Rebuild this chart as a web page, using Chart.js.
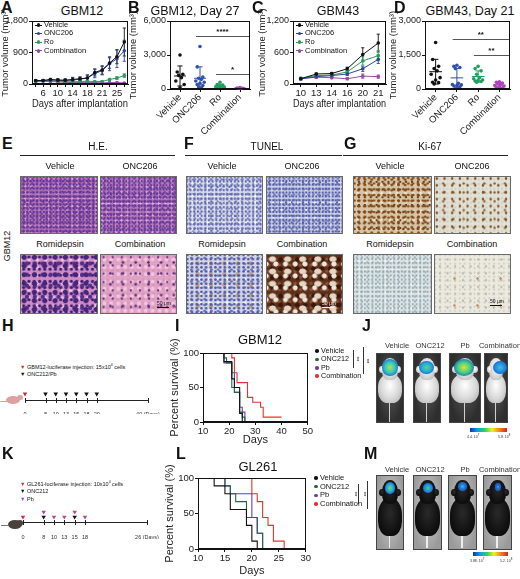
<!DOCTYPE html>
<html><head><meta charset="utf-8">
<script src="https://cdn.jsdelivr.net/npm/chart.js@4.4.1/dist/chart.umd.min.js"></script>
<style>
body{margin:0;width:520px;height:579px;position:relative;background:#fff;font-family:"Liberation Sans",Arial,sans-serif;overflow:hidden;color:#111}
.L{position:absolute;font-weight:bold;font-size:16px;line-height:16px}
.t{position:absolute;white-space:nowrap;transform:translate(-50%,-50%);line-height:1}
.box{position:absolute;box-sizing:border-box;border:1px solid #6a6a6a;overflow:hidden}
.inner{position:absolute;left:-2px;top:-2px;right:-2px;bottom:-2px;filter:blur(0.45px)}
canvas{position:absolute}
.hl{position:absolute;height:1px;background:#222}
.lg{position:absolute;white-space:nowrap;line-height:1}
</style></head><body>
<script>
// ---------------- DATA ----------------
const groupsA = ['Vehicle','ONC206','Ro','Combination'];
const daysA = [4,6,8,10,12,14,16,18,20,21,23,25,27];
const vehicleA = [100,100,130,110,110,130,150,170,330,400,600,780,1200];
const vehicleAerr = [20,20,30,30,30,60,50,90,100,120,150,200,400];
const onc206A = [90,100,110,110,100,110,140,170,300,380,580,720,950];
const onc206Aerr = [20,20,30,40,40,70,60,80,120,120,200,250,300];
const roA = [80,90,80,80,70,60,70,80,70,70,130,170,240];
const roAerr = [15,20,20,20,20,20,20,25,20,20,30,40,50];
const combA = [70,80,70,60,50,40,40,40,40,30,40,40,30];
const combAerr = [15,15,15,15,10,10,10,10,10,10,10,10,10];

const daysC = [10,13,14,16,20,21];
const vehicleC = [100,190,200,290,560,780];
const vehicleCerr = [20,20,20,30,130,170];
const onc206C = [100,140,160,190,290,470];
const onc206Cerr = [20,20,20,30,50,80];
const roC = [110,160,170,230,440,540];
const roCerr = [20,20,20,30,80,100];
const combC = [100,130,120,100,150,140];
const combCerr = [20,20,20,20,40,30];

const catsB = ['Vehicle','ONC206','Ro','Combination'];
const vehicleB = [3000,1500,1300,1200,1000,700,400,100];
const onc206B = [3750,1950,1050,950,850,700,600,500,400,300,200,100];
const roB = [600,400,350,300,250,200,150,100,50,20];
const combB = [120,80,60,40,30,20,10,5,0];
const sigB = [{from:1,to:3,y:4700,label:'****'},{from:2,to:3,y:1300,label:'*'}];

const catsD = ['Vehicle','ONC206','Ro','Combination'];
const vehicleD = [2050,1300,1000,900,800,650,500,400,300,280,220];
const onc206D = [1050,1000,950,900,250,200,180,150,130,100];
const roD = [1000,900,800,650,500,450,400,380,350,330,300];
const combD = [320,300,260,230,200,150,120,90,60,40];
const sigD = [{from:1,to:3,y:2200,label:'**'},{from:2,to:3,y:1500,label:'**'}];

const groupsS = ['Vehicle','ONC212','Pb','Combination'];
const survI_vehicle = [[10,100],[18,87.5],[21,62.5],[22,50],[24,12.5],[25,0]];
const survI_onc212 = [[10,100],[18,92.9],[19,85.7],[21,50],[22,42.9],[24,14.3],[25,7.1],[26,0]];
const survI_pb = [[10,100],[18,85.7],[21,71.4],[22,42.9],[24,21.4],[25,14.3],[26,0]];
const survI_comb = [[10,100],[21,92.9],[22,71.4],[23,57.1],[27,35.7],[29,28.6],[32,21.4],[33,7.1],[40,7.1]];

const survL_vehicle = [[10,100],[13,88.9],[15,77.8],[16,55.6],[19,33.3],[20,11.1],[21,0]];
const survL_onc212 = [[10,100],[15,88.9],[16,77.8],[17,66.7],[19,44.4],[21,22.2],[22,0]];
const survL_pb = [[10,100],[15,88.9],[16,77.8],[20,44.4],[21,22.2],[22,0]];
const survL_comb = [[10,100],[20,77.8],[21,66.7],[22,44.4],[23,33.3],[24,11.1],[26,0]];

// schematic (not-to-scale) timelines: blank entries are spacer slots
const timelineH = ['0','','8','10','13','15','18','20','','','','','40'];
const injectH = ['0'];
const treatH = ['8','10','13','15','18','20'];
const timelineK = ['0','','8','10','13','15','18','','','','','','26'];
const injectK = ['0'];
const onc212K = ['8','15'];
const pbK = ['8','10','13','15','18'];

// ---------------- STYLE ----------------
const FF = '"Liberation Sans", Arial, sans-serif';
Chart.defaults.font.family = FF;
Chart.defaults.color = '#222';
Chart.defaults.animation = false;
const colA = ['#111111','#2f4596','#2a9d5c','#9b4aa8'];
const colB = ['#111111','#3050b0','#1fa060','#b040c0'];
const colS = ['#111111','#24664a','#6b3fa0','#e83030'];

function el(tag, cls, css, html){const e=document.createElement(tag); if(cls)e.className=cls; if(css)e.style.cssText=css; if(html!==undefined)e.innerHTML=html; document.body.appendChild(e); return e;}
function canvas(l,t,w,h){const c=el('canvas','', `left:${l}px;top:${t}px;width:${w}px;height:${h}px`); c.width=w; c.height=h; return c;}
function letter(ch,l,t){el('div','L',`left:${l}px;top:${t}px`,ch);}
function text(s,x,y,size,extra){el('div','t',`left:${x}px;top:${y}px;font-size:${size}px;${extra||''}`,s);}

const framePlugin = {id:'frame', afterDraw(c){const a=c.chartArea,ctx=c.ctx;ctx.save();ctx.strokeStyle='#111';ctx.lineWidth=1;ctx.strokeRect(Math.round(a.left)+0.5,Math.round(a.top)+0.5,Math.round(a.right-a.left)-1,Math.round(a.bottom-a.top)-1);ctx.restore();}};
const errPlugin = {id:'err', beforeDatasetsDraw(c){const ctx=c.ctx, ys=c.scales.y; c.data.datasets.forEach((ds,i)=>{ if(!ds.err) return; const meta=c.getDatasetMeta(i); ctx.save(); ctx.strokeStyle=ds.borderColor; ctx.lineWidth=0.9; meta.data.forEach((pt,j)=>{const v=ds.data[j], e=ds.err[j]; const y1=ys.getPixelForValue(v+e), y2=ys.getPixelForValue(Math.max(0,v-e)); ctx.beginPath(); ctx.moveTo(pt.x,y1); ctx.lineTo(pt.x,y2); ctx.moveTo(pt.x-1.6,y1); ctx.lineTo(pt.x+1.6,y1); ctx.moveTo(pt.x-1.6,y2); ctx.lineTo(pt.x+1.6,y2); ctx.stroke();}); ctx.restore();});}};
const statPlugin = {id:'stat', afterDatasetsDraw(c,args,opts){const ctx=c.ctx, xs=c.scales.x, ys=c.scales.y; ctx.save();
  c.data.datasets.forEach((ds,i)=>{const vals=ds.data.map(p=>p.y), n=vals.length; const m=vals.reduce((a,b)=>a+b,0)/n; const sd=Math.sqrt(vals.reduce((a,b)=>a+(b-m)*(b-m),0)/(n-1));
    const cx=xs.getPixelForValue(i), w=xs.getPixelForValue(i+0.3)-cx, wc=xs.getPixelForValue(i+0.13)-cx;
    const ym=ys.getPixelForValue(m), yt=ys.getPixelForValue(m+sd), yb=ys.getPixelForValue(Math.max(0,m-sd));
    ctx.strokeStyle=ds.borderColor; ctx.lineWidth=1; ctx.beginPath(); ctx.moveTo(cx-w,ym); ctx.lineTo(cx+w,ym); ctx.moveTo(cx,yt); ctx.lineTo(cx,yb); ctx.moveTo(cx-wc,yt); ctx.lineTo(cx+wc,yt); if(m-sd>0){ctx.moveTo(cx-wc,yb); ctx.lineTo(cx+wc,yb);} ctx.stroke();});
  (opts.sig||[]).forEach(s=>{const x1=xs.getPixelForValue(s.from-0.2), x2=xs.getPixelForValue(s.to+0.45), y=Math.round(ys.getPixelForValue(s.y))+0.5;
    ctx.strokeStyle='#555'; ctx.lineWidth=1; ctx.beginPath(); ctx.moveTo(x1,y); ctx.lineTo(x2,y); ctx.stroke();
    ctx.fillStyle='#111'; ctx.font='bold 8px '+FF; ctx.textAlign='center'; ctx.textBaseline='bottom'; ctx.fillText(s.label,(x1+x2)/2,y-1);});
  ctx.restore();}};
const tlPlugin = {id:'tl', afterDraw(c){const ctx=c.ctx, xs=c.scales.x, y=Math.round(c.chartArea.bottom)+0.5; const labels=c.data.labels; ctx.save(); ctx.strokeStyle='#222'; ctx.lineWidth=1; ctx.beginPath(); ctx.moveTo(xs.getPixelForValue(0),y); ctx.lineTo(xs.getPixelForValue(labels.length-1),y); labels.forEach((lb,i)=>{ if(lb==='') return; const x=Math.round(xs.getPixelForValue(i))+0.5; ctx.moveTo(x,y-2.5); ctx.lineTo(x,y+2.5);}); ctx.stroke(); ctx.restore();}};

const gridTicks = {display:true, drawOnChartArea:false, drawTicks:true, tickLength:3, color:'#111', lineWidth:1};
const border = {display:true, color:'#111', width:1};
const fmt = v => Number(v).toLocaleString('en-US');

// ---------- line chart (A, C) ----------
function lineChart(l,t,w,h,padTop,yW,xH,days,series,errs,ymax,step,labelEvery){
  const c=canvas(l,t,w,h);
  return new Chart(c,{type:'line',
    data:{labels:days, datasets:groupsA.map((g,i)=>({label:g,data:series[i],err:errs[i],borderColor:colA[i],backgroundColor:colA[i],pointRadius:1.8,pointBorderWidth:0,borderWidth:1,tension:0}))},
    options:{responsive:false,animation:false,layout:{padding:{top:padTop,right:4,left:0,bottom:0}},
      plugins:{legend:{display:false},tooltip:{enabled:false}},
      scales:{
        x:{type:'category',offset:true,grid:gridTicks,border:border,
           ticks:{autoSkip:false,maxRotation:0,font:{size:9.5},padding:1,color:'#222',callback:(v,i)=> (labelEvery===1||i%labelEvery===labelEvery-1)? days[i]:''},
           title:{display:true,text:'Days after implantation',font:{size:10},padding:{top:3,bottom:0},color:'#222'},
           afterFit:s=>{s.height=xH;}},
        y:{min:0,max:ymax,grid:gridTicks,border:border,ticks:{stepSize:step,font:{size:9},padding:1,callback:fmt,color:'#222'},
           title:{display:true,text:'Tumor volume (mm³)',font:{size:9.5},padding:0,color:'#222'},
           afterFit:s=>{s.width=yW;}}
      }},
    plugins:[framePlugin,errPlugin]});
}
// ---------- dot plot (B, D) ----------
function dotChart(l,t,w,h,padTop,padRight,yW,xH,cats,groups,ymax,step,sig){
  const c=canvas(l,t,w,h);
  const offs=[0,-0.14,0.14,-0.07,0.07,-0.21,0.21];
  return new Chart(c,{type:'scatter',
    data:{datasets:groups.map((g,i)=>({label:cats[i],data:g.map((v,j)=>({x:i+offs[j%offs.length],y:v})),borderColor:colB[i],backgroundColor:colB[i],pointRadius:1.8,pointBorderWidth:0}))},
    options:{responsive:false,animation:false,layout:{padding:{top:padTop,right:padRight,left:0,bottom:0}},
      plugins:{legend:{display:false},tooltip:{enabled:false},stat:{sig:sig}},
      scales:{
        x:{type:'linear',min:-0.5,max:3.5,grid:gridTicks,border:border,
           afterBuildTicks:s=>{s.ticks=cats.map((_,i)=>({value:i}));},
           ticks:{autoSkip:false,minRotation:45,maxRotation:45,font:{size:9.5},padding:0,color:'#222',callback:v=>cats[v]},
           afterFit:s=>{s.height=xH;}},
        y:{min:0,max:ymax,grid:gridTicks,border:border,ticks:{stepSize:step,font:{size:9},padding:1,callback:fmt,color:'#222'},
           title:{display:true,text:'Tumor volume (mm³)',font:{size:9.5},padding:0,color:'#222'},
           afterFit:s=>{s.width=yW;}}
      }},
    plugins:[framePlugin,statPlugin]});
}
// ---------- survival (I, L) ----------
function survChart(l,t,w,h,padTop,yW,xH,sets,xmin,xmax,xstep){
  const c=canvas(l,t,w,h);
  return new Chart(c,{type:'line',
    data:{datasets:sets.map((s,i)=>({label:groupsS[i],data:s.map(p=>({x:p[0],y:p[1]})),borderColor:colS[i],backgroundColor:colS[i],borderWidth:1.1,pointRadius:0,stepped:'before'}))},
    options:{responsive:false,animation:false,layout:{padding:{top:padTop,right:2,left:0,bottom:0}},
      plugins:{legend:{display:false},tooltip:{enabled:false}},
      scales:{
        x:{type:'linear',min:xmin,max:xmax,grid:gridTicks,border:border,ticks:{stepSize:xstep,font:{size:9.5},padding:1,color:'#222'},
           title:{display:true,text:'Days',font:{size:11},padding:{top:2,bottom:0},color:'#222'},afterFit:s=>{s.height=xH;}},
        y:{min:0,max:100,grid:gridTicks,border:border,ticks:{stepSize:50,font:{size:9.5},padding:1,color:'#222'},
           title:{display:true,text:'Percent survival (%)',font:{size:11},padding:0,color:'#222'},afterFit:s=>{s.width=yW;}}
      }},
    plugins:[framePlugin]});
}
// ---------- timeline (H, K) ----------
function timeline(l,t,w,h,padL,padR,labels,ymax,rows){
  const c=canvas(l,t,w,h);
  const last=labels[labels.length-1];
  return new Chart(c,{type:'line',
    data:{labels:labels, datasets:rows.map(r=>({data:r.days.map((d,i)=>({x:d,y:r.y[i]})),showLine:false,pointStyle:'triangle',rotation:180,pointRadius:2.6,backgroundColor:r.color,borderColor:r.color,pointBorderWidth:0}))},
    options:{responsive:false,animation:false,layout:{padding:{top:2,left:padL,right:padR,bottom:0}},
      plugins:{legend:{display:false},tooltip:{enabled:false}},
      scales:{
        x:{type:'category',offset:false,grid:{display:false},border:{display:false},
           ticks:{autoSkip:false,maxRotation:0,font:{size:5.5},padding:4,color:'#333',callback:(v,i)=> labels[i]===last? last+' (Days)': labels[i]}},
        y:{display:false,min:0,max:ymax}
      }},
    plugins:[tlPlugin]});
}

// ================= TOP ROW =================
letter('A',1,0); text('GBM12',82,11,12.5);
lineChart(0,0,132,110,21,32,26,daysA,[vehicleA,onc206A,roA,combA],[vehicleAerr,onc206Aerr,roAerr,combAerr],1800,900,2);
letter('B',128,0); text('GBM12, Day 27',195,11,12.5);
dotChart(128,0,126,139,21,4,42,50,catsB,[vehicleB,onc206B,roB,combB],6000,3000,sigB);
letter('C',252,0); text('GBM43',338,11,12.5);
lineChart(257,0,133,110,21,36,26,daysC,[vehicleC,onc206C,roC,combC],[vehicleCerr,onc206Cerr,roCerr,combCerr],1200,600,1);
letter('D',394,0); text('GBM43, Day 21',470,11,12.5);
dotChart(388,0,128,139,21,6,37,50,catsD,[vehicleD,onc206D,roD,combD],3000,1500,sigD);

function legend(l,t,names,cols,sp,fs,lineMark){
  names.forEach((n,i)=>{
    const y=t+i*sp;
    if(lineMark){ el('div','',`position:absolute;left:${l}px;top:${y-0.5}px;width:7px;height:1px;background:${cols[i]}`); }
    el('div','',`position:absolute;left:${l+(lineMark?1.8:0)}px;top:${y-1.8}px;width:3.6px;height:3.6px;border-radius:50%;background:${cols[i]}`);
    el('div','lg',`left:${l+(lineMark?9:6)}px;top:${y-fs*0.55}px;font-size:${fs}px`,n);
  });
}
legend(35,25,groupsA,colA,8.6,7.5,true);
legend(296,25,groupsA,colA,8.6,7.5,true);

// ================= HISTOLOGY =================
letter('E',2,136); letter('F',184,136); letter('G',344,136);
text('H.E.',98,147,10); el('div','hl','left:20px;top:155px;width:155px');
text('TUNEL',267,147,10); el('div','hl','left:185px;top:155px;width:157px');
text('Ki-67',430,147,10); el('div','hl','left:343px;top:155px;width:165px');
text('Vehicle',60,166,9); text('ONC206',140,166,9);
text('Vehicle',222,166,9); text('ONC206',302,166,9);
text('Vehicle',390,166,9); text('ONC206',472,166,9);
text('Romidepsin',60,244,9); text('Combination',140,244,9);
text('Romidepsin',222,244,9); text('Combination',302,244,9);
text('Romidepsin',390,244,9); text('Combination',472,244,9);
text('GBM12',7,246,9,'transform:translate(-50%,-50%) rotate(-90deg)');

function tex(base, layers){return layers.map(L=>`radial-gradient(${L[6]||'circle'}, ${L[0]} 0 ${L[1]}px, transparent ${L[1]+0.7}px) ${L[4]}px ${L[5]}px/${L[2]}px ${L[3]}px`).join(',')+','+base;}
const histo = [
 // E  H&E
 [20,176,78,58, tex('#b270b6',[['#643494',0.8,3.3,3.9,0,0],['#70409a',0.9,4.7,4.3,1.7,2.1],['#dcaad6',1.0,5.9,6.7,3.1,0.7],['#58307e',0.7,6.3,5.1,2.3,3.9],['#cc92c8',1.6,9.7,8.3,4.1,5.3]])],
 [100,176,77,58, tex('#b476b8',[['#66369a',0.8,3.1,4.1,1,0],['#72409c',0.9,5.1,4.5,2.2,1.3],['#e0b0da',1.0,6.3,5.7,0.4,3.1],['#5a3280',0.7,5.7,6.9,3.6,2.2],['#d098cc',1.7,10.3,9.1,2.7,6.1]])],
 [20,254,78,60, tex('#d08ac4',[['#45257a',2.4,10.3,8.7,0,0,'ellipse'],['#52308a',1.8,7.9,11.1,4,5],['#3e2070',1.2,5.3,6.1,2,1],['#eec0e2',1.4,8.3,7.7,6,3]])],
 [100,254,77,60, tex('#e2a4c6',[['#6a3386',0.8,9.1,8.3,0,0],['#5a2a7a',0.9,12.7,10.9,5,4],['#f2c6dc',1.6,6.9,7.3,2,3],['#d896bc',1.3,5.1,4.7,1,1]])],
 // F  TUNEL
 [186,176,77,58, tex('#d6daec',[['#6068ac',0.8,3.7,4.3,0,0],['#7c82bc',0.9,5.3,4.9,2,2],['#f2f2f8',1.3,7.9,6.7,3,4],['#525aa0',0.7,6.1,7.3,5,1]])],
 [266,176,77,58, tex('#c8cee8',[['#565ea6',0.8,3.3,3.9,0,0],['#7078b6',0.9,4.9,5.3,2,1],['#eceef8',1.2,8.3,7.1,4,3],['#4a5498',0.7,5.7,6.7,1,4]])],
 [186,254,77,60, tex('#d2d4e6',[['#4e58a2',0.9,4.7,4.1,0,0],['#6c74b6',1.0,6.7,5.9,3,2],['#c8a478',1.8,13.3,10.7,6,5],['#f4f2f4',1.2,8.9,7.9,2,6]])],
 [266,254,77,60, tex('#5c2e1c',[['#e4d6c4',3.2,15.1,12.3,0,0,'ellipse'],['#f0e6da',2.2,9.7,11.9,6,5],['#38180a',2,8.3,9.1,3,2],['#8a5030',1.3,5.3,6.1,1,3]])],
 // G  Ki-67
 [353,176,79,58, tex('#d6c4a4',[['#784618',0.9,4.9,5.7,0,0],['#864e20',1.0,6.7,5.3,3,2],['#eee2cc',1.3,7.9,8.9,2,5],['#6a3a10',0.8,5.9,7.7,4,3]])],
 [434,176,77,58, tex('#e3e0d4',[['#7c4c1c',0.9,7.7,6.9,0,0],['#8c5c2c',0.8,10.3,8.9,5,4],['#c8cec8',0.7,3.9,4.7,1,2]])],
 [353,254,79,60, tex('#dde5e5',[['#93a8b3',0.7,3.7,4.1,0,0],['#a0b0b8',0.8,5.3,4.9,2,2],['#f2f6f4',1,6.7,7.9,3,4]])],
 [434,254,77,60, tex('#ece9de',[['#c4c8c2',0.6,4.9,4.3,0,0],['#b4ac96',0.7,7.7,6.9,3,3],['#c48c54',0.9,23,27,10,12]])]
];
histo.forEach(h=>{const b=el('div','box',`left:${h[0]}px;top:${h[1]}px;width:${h[2]}px;height:${h[3]}px`); const i=document.createElement('div'); i.className='inner'; i.style.background=h[4]; b.appendChild(i);});
[[157,306,'#111'],[322,306,'#f2f2f2'],[490,304,'#111']].forEach(s=>{
  el('div','lg',`left:${s[0]}px;top:${s[1]-5}px;font-size:5px;color:${s[2]}`,'50 μm');
  el('div','',`position:absolute;left:${s[0]}px;top:${s[1]+1}px;width:12px;height:1px;background:${s[2]}`);
});

// ================= H / K timelines =================
letter('H',2,318);
el('div','lg','left:20px;top:364px;font-size:5.5px','<span style="color:#c83030">▼</span> GBM12-luciferase injection: 15x10<sup style="font-size:3.5px">4</sup> cells');
el('div','lg','left:20px;top:372px;font-size:5.5px','▼ ONC212/Pb');
timeline(0,383,172,31,25,24,timelineH,2.2,[{days:injectH,y:injectH.map(()=>1),color:'#c83030'},{days:treatH,y:treatH.map(()=>1),color:'#111'}]);
el('div','',`position:absolute;left:6px;top:396px;width:14px;height:8px;border-radius:50%;background:#d9a3a0`);
el('div','',`position:absolute;left:17px;top:395px;width:6px;height:5px;border-radius:50%;background:#d9a3a0`);
el('div','',`position:absolute;left:0px;top:401px;width:7px;height:1px;background:#d9a3a0`);

letter('K',2,446);
el('div','lg','left:20px;top:481px;font-size:5.5px','<span style="color:#c83030">▼</span> GL261-luciferase injection: 10x10<sup style="font-size:3.5px">4</sup> cells');
el('div','lg','left:20px;top:489px;font-size:5.5px','▼ ONC212');
el('div','lg','left:20px;top:497px;font-size:5.5px','<span style="color:#b04a9a">▼</span> Pb');
timeline(0,503,172,36,23,25,timelineK,3,[
  {days:injectK,y:injectK.map(()=>1),color:'#c83040'},
  {days:onc212K,y:onc212K.map(()=>1),color:'#111'},
  {days:pbK,y:pbK.map(d=>onc212K.includes(d)?2:1),color:'#b04a9a'}]);
el('div','',`position:absolute;left:8px;top:520px;width:14px;height:9px;border-radius:50%;background:#4a403c`);
el('div','',`position:absolute;left:17px;top:520px;width:6px;height:6px;border-radius:50%;background:#4a403c`);
el('div','',`position:absolute;left:1px;top:525px;width:8px;height:1px;background:#777`);

// ================= I / L survival =================
letter('I',175,318); text('GBM12',260,339,13);
survChart(168,328,146,119,25,35,25,[survI_vehicle,survI_onc212,survI_pb,survI_comb],10,50,10);
legend(315,351,groupsS,colS,8.4,7.2,false);
el('div','',`position:absolute;left:353px;top:350px;width:1px;height:18px;background:#333`);
el('div','',`position:absolute;left:363px;top:347px;width:1px;height:27px;background:#333`);
text('**',357,359,6,'transform:translate(-50%,-50%) rotate(90deg)');
text('**',367,361,6,'transform:translate(-50%,-50%) rotate(90deg)');

letter('L',176,446); text('GL261',258,466,13);
survChart(163,453,149,125,25,35,29,[survL_vehicle,survL_onc212,survL_pb,survL_comb],10,30,5);
legend(314,478,groupsS,colS,8.7,7.5,false);
el('div','',`position:absolute;left:358px;top:484px;width:1px;height:20px;background:#333`);
el('div','',`position:absolute;left:367px;top:481px;width:1px;height:28px;background:#333`);
text('**',355,494,6,'transform:translate(-50%,-50%) rotate(90deg)');
text('**',364,494,6,'transform:translate(-50%,-50%) rotate(90deg)');

// ================= J / M mice =================
function mouse(l,t,w,h,dark,spot){
  const bg = dark ? 'radial-gradient(ellipse at 50% 45%, #5a5a5a, #2e2e2e 75%)' : 'radial-gradient(ellipse at 50% 45%, #cfcfcf, #9a9a9a 80%)';
  const body = dark ? 'radial-gradient(ellipse at 50% 40%, #ffffff, #d8d8d8 55%, #a8a8a8)' : 'radial-gradient(ellipse at 50% 40%, #2a2a2a, #111 60%, #050505)';
  const b = el('div','box',`left:${l}px;top:${t}px;width:${w}px;height:${h}px;background:${bg};border-color:#444`);
  const add=(css)=>{const d=document.createElement('div'); d.style.cssText='position:absolute;'+css; b.appendChild(d);};
  add(`left:45%;top:${dark?62:68}%;width:1.5px;height:${dark?38:30}%;background:${dark?'#d0d0d0':'#eee'}`);
  add(`left:4%;top:30%;width:92%;height:${dark?42:52}%;border-radius:45% 45% 40% 40%;background:${body}`);
  add(`left:20%;top:6%;width:60%;height:32%;border-radius:50% 50% 40% 40%;background:${body}`);
  add(`left:8%;top:18%;width:22%;height:10%;border-radius:50%;background:${body}`);
  add(`left:70%;top:18%;width:22%;height:10%;border-radius:50%;background:${body}`);
  add(`left:${spot[0]}%;top:${spot[1]}%;width:${spot[2]}%;height:${spot[3]}%;border-radius:50%;background:radial-gradient(ellipse, ${spot[4]} 0, ${spot[5]} 45%, #1a60d0 80%, transparent 100%)`);
}
letter('J',362,318);
const miceLabels = ['Vehicle','ONC212','Pb','Combination'];
const labX = [397,430,465,500];
miceLabels.forEach((m,i)=>text(m,labX[i],346,7.5,'color:#333'));
mouse(376,353,28,70,true,[18,8,62,24,'#b0e050','#30c8c0']);
mouse(413,353,28,70,true,[20,10,56,20,'#60d080','#20b0d8']);
mouse(449,353,32,70,true,[14,8,66,24,'#e0e040','#40d080']);
mouse(484,353,24,70,true,[36,10,64,20,'#40c0e0','#2090e0']);
el('div','',`position:absolute;left:470px;top:428px;width:37px;height:4px;background:linear-gradient(to right,#1030c0,#10a0e0,#30d060,#f0f020,#f08020,#e02020)`);
el('div','lg','left:467px;top:434px;font-size:3.5px;color:#333','4.4. 10<sup>7</sup>');
el('div','lg','left:498px;top:434px;font-size:3.5px;color:#333','5.8. 10<sup>8</sup>');

letter('M',364,446);
miceLabels.forEach((m,i)=>text(m,labX[i],470,7.5,'color:#333'));
mouse(376,475,28,75,false,[30,8,40,16,'#70e070','#20a8d8']);
mouse(413,475,29,75,false,[32,9,38,14,'#40d0a0','#2090d8']);
mouse(448,475,29,75,false,[32,8,36,13,'#40b8e0','#1a70d0']);
mouse(483,475,29,75,false,[40,10,24,10,'#40a8e0','#1a60d0']);
el('div','',`position:absolute;left:473px;top:552px;width:35px;height:4px;background:linear-gradient(to right,#1030c0,#10a0e0,#30d060,#f0f020,#f08020,#e02020)`);
el('div','lg','left:470px;top:558px;font-size:3.5px;color:#333','3.88. 10<sup>7</sup>');
el('div','lg','left:500px;top:558px;font-size:3.5px;color:#333','5.2. 10<sup>8</sup>');
</script>
</body></html>
